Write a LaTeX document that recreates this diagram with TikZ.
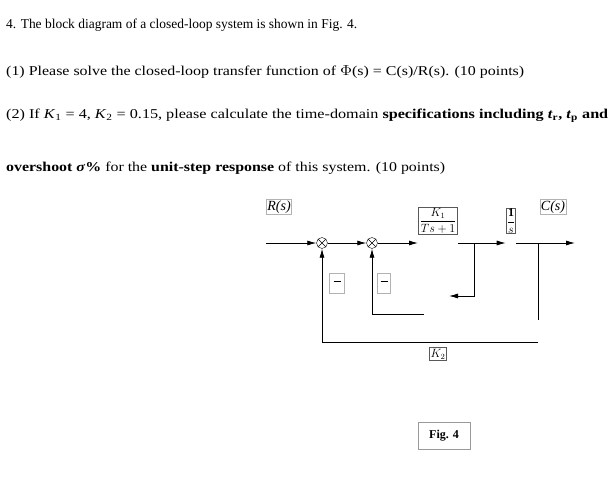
\documentclass[tikz,border=0pt]{standalone}
\usepackage{fontspec}
\usepackage{graphicx}
\setmainfont{Liberation Serif}
\usetikzlibrary{arrows.meta}
\begin{document}
\begin{tikzpicture}[x=1pt,y=-1pt,
  txt/.style={anchor=base west,inner sep=0,font=\fontsize{13.5}{15}\selectfont},
  sumj/.style={circle,draw,inner sep=0,minimum size=11pt,path picture={\draw (path picture bounding box.north west)--(path picture bounding box.south east) (path picture bounding box.north east)--(path picture bounding box.south west);}},
  blk/.style={draw=black!65,line width=1.2pt,inner sep=1pt,font=\large},
  lbl/.style={draw=black!30,inner sep=1pt,font=\itshape\fontsize{14}{15}\selectfont},
  arr/.style={-{Latex[length=9pt,width=5pt]},line width=0.8pt},
  ln/.style={line width=0.8pt}]
\useasboundingbox (0,0) rectangle (616,482);
\node[txt] (t1) at (6,28) {\resizebox{351pt}{\height}{4. The block diagram of a closed-loop system is shown in Fig. 4.}};
\node[txt] (t2) at (6,75) {\resizebox{518pt}{\height}{(1) Please solve the closed-loop transfer function of $\Phi$(s) = C(s)/R(s). (10 points)}};
\node[txt] (t3) at (6,118) {\resizebox{602pt}{\height}{(2) If \textit{K}\textsubscript{1} = 4, \textit{K}\textsubscript{2} = 0.15, please calculate the time-domain \textbf{specifications including \textit{t}\textsubscript{r}, \textit{t}\textsubscript{p} and}}};
\node[txt] (t4) at (6,171) {\resizebox{439pt}{\height}{\textbf{overshoot \textit{σ}\%} for the \textbf{unit-step response} of this system. (10 points)}};
\coordinate (in) at (266,243);
\node[sumj] (s1) at (322,243) {};
\node[sumj] (s2) at (372,243) {};
\node[blk] (g1) at (438,221) {$\displaystyle\frac{K_1}{Ts+1}$};
\node[blk,inner sep=0.5pt] (g2) at (511,221) {$\displaystyle\frac{\mathbf 1}{s}$};
\coordinate (b1) at (474,243);
\coordinate (out) at (575,243);
\coordinate (b2) at (538,243);
\node[lbl] (R) at (279,207) {R(s)};
\node[lbl] (C) at (553,207) {C(s)};
\node[lbl,minimum width=13pt,minimum height=20pt,inner sep=0] (m2) at (384,283) {\raisebox{4pt}{\rule{7pt}{0.5pt}}};
\node[lbl,minimum width=15pt,minimum height=20pt,inner sep=0] (m1) at (337,283) {\raisebox{4pt}{\rule{7pt}{0.5pt}}};
\node[blk,line width=1pt,inner sep=1.5pt] (k2) at (438,354) {$K_2$};
\node[draw=black!40,minimum width=52pt,minimum height=27pt,inner sep=0,font=\bfseries\fontsize{12}{14}\selectfont] (fig) at (444,436) {Fig. 4};
\draw[arr] (in) -- (s1);
\draw[arr] (s1) -- (s2);
\draw[arr] (s2) -- (g1.west|-s2);
\draw[arr] (g1.east|-b1) -- (g2.west|-b1);
\draw[arr] (g2.east|-b1) -- (out);
\draw[arr] (b1) -- (474,296) -- (449,296);
\draw[ln] (424,314) -- (372,314);
\draw[arr] (372,314) -- (s2);
\draw[ln] (b2) -- (538,320);
\draw[ln] (538,342) -- (322,342);
\draw[arr] (322,342) -- (s1);
\end{tikzpicture}
\end{document}
